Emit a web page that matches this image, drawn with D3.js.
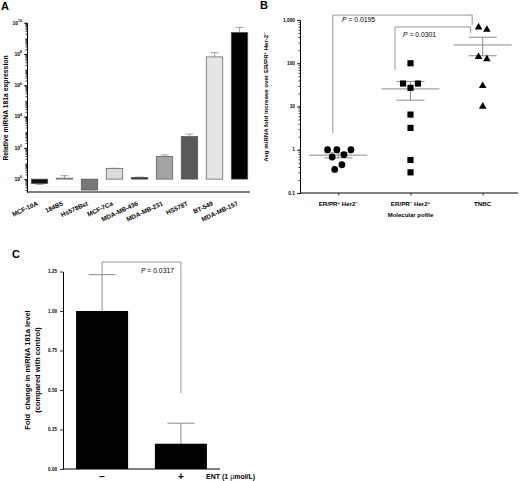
<!DOCTYPE html>
<html>
<head>
<meta charset="utf-8">
<script src="https://cdn.jsdelivr.net/npm/d3@7"></script>
<style>
  body { margin: 0; background: #fff; }
  svg { font-family: "Liberation Sans", Arial, sans-serif; }
</style>
</head>
<body>
<svg id="chart" width="520" height="481"></svg>
<script>
// panel A data
var cellLines = ["MCF-10A", "184B5", "Hs578Bst", "MCF-7Ca", "MDA-MB-436", "MDA-MB-231", "HS578T", "BT-549", "MDA-MB-157"];
var expression = [0.52, 1.15, 0.2, 4.9, 1.3, 28, 535, 6.5e7, 2.4e9];
var expressionErr = [0.46, 1.65, 0.16, 4.9, 1.35, 35, 760, 1.2e8, 5e9];
var barShades = ["#111", "#f2f2f2", "#777", "#dcdcdc", "#333", "#a3a3a3", "#595959", "#e6e6e6", "#000"];

// panel B data
var profiles = ["ER/PR+ Her2-", "ER/PR- Her2+", "TNBC"];
var erprPos = [1.0, 1.0, 1.0, 0.77, 0.68, 0.45, 0.35];
var her2Pos = [100, 34, 34, 27, 6.5, 3.2, 0.58, 0.30];
var tnbc = [680, 600, 140, 125, 30, 10];
var profileMean = [0.75, 25.5, 265];
var profileSemLo = [0.65, 14, 149];
var profileSemHi = [0.85, 38, 400];
var bTicks = [0.1, 1, 10, 100, 1000];
var bTickLabels = ["0.1", "1", "10", "100", "1,000"];

// panel C data
var entGroups = ["\u2212", "+"];
var foldChange = [1.0, 0.16];
var foldErr = [1.23, 0.29];
var cTicks = [0, 0.25, 0.5, 0.75, 1.0, 1.25];

var svg = d3.select("#chart");
var grey = "#8a8a8a";

function logMinor(lo, hi) {
    var out = [];
    for (var k = -2; k <= 10; k++) {
        for (var m = 1; m <= 9; m++) {
            var v = m * Math.pow(10, k);
            if (v >= lo && v <= hi) out.push(v);
        }
    }
    return out;
}

function panelLetter(txt, x, y) {
    svg.append("text").attr("x", x).attr("y", y)
        .attr("font-size", 11).attr("font-weight", "bold").text(txt);
}

// ---------------- A ----------------
panelLetter("A", 1, 10);

var yA = d3.scaleLog().domain([0.15, 1e10]).range([192, 22.7]);
var xA = d3.scaleBand().domain(cellLines).range([27, 252]).paddingInner(0.34).paddingOuter(0.17);

var gA = svg.append("g");

gA.append("g").attr("transform", "translate(27,0)")
    .call(d3.axisLeft(yA).tickValues(logMinor(0.15, 1e10)).tickSize(1.5).tickSizeOuter(0).tickFormat(""));
gA.append("g").attr("transform", "translate(27,0)")
    .call(d3.axisLeft(yA).tickValues([1, 1e2, 1e4, 1e6, 1e8, 1e10]).tickSize(3).tickSizeOuter(0).tickFormat(""));

[0, 2, 4, 6, 8, 10].forEach(function(p) {
    var t = gA.append("text").attr("x", 22).attr("y", yA(Math.pow(10, p)) + 1.8)
        .attr("text-anchor", "end").attr("font-size", 5).attr("font-weight", "bold");
    t.append("tspan").text("10");
    t.append("tspan").attr("dy", -2.5).attr("font-size", 3.5).text(p);
});

gA.append("line").attr("x1", 27).attr("x2", 250).attr("y1", 192).attr("y2", 192)
    .attr("stroke", "#000").attr("stroke-width", 1);

// error bars
gA.selectAll(".errA").data(cellLines).enter().append("path")
    .attr("fill", "none").attr("stroke", grey).attr("stroke-width", 0.8)
    .attr("d", function(d, i) {
        var cx = xA(d) + xA.bandwidth() / 2;
        var y0 = yA(expression[i]), y1 = yA(expressionErr[i]);
        return "M" + cx + "," + y0 + "V" + y1 + "M" + (cx - 4) + "," + y1 + "H" + (cx + 4);
    });

gA.selectAll(".barA").data(cellLines).enter().append("rect")
    .attr("x", function(d) { return xA(d); })
    .attr("width", xA.bandwidth())
    .attr("y", function(d, i) { return Math.min(yA(1), yA(expression[i])); })
    .attr("height", function(d, i) { return Math.abs(yA(1) - yA(expression[i])); })
    .attr("fill", function(d, i) { return barShades[i]; })
    .attr("stroke", "#555").attr("stroke-width", 0.7);

gA.selectAll(".labA").data(cellLines).enter().append("text")
    .attr("transform", function(d) {
        return "translate(" + (xA(d) + xA.bandwidth() / 2 - 1) + ",205) rotate(-25)";
    })
    .attr("text-anchor", "end").attr("font-size", 6.4).attr("font-weight", "bold")
    .text(function(d) { return d; });

gA.append("text").attr("transform", "translate(7.5,108) rotate(-90)")
    .attr("text-anchor", "middle").attr("font-size", 6.8).attr("font-weight", "bold")
    .text("Relative miRNA 181a expression");

// ---------------- B ----------------
panelLetter("B", 260, 9);

var yB = d3.scaleLog().domain([0.1, 1000]).range([193, 20]);
var xB = d3.scalePoint().domain(profiles).range([338.3, 482.7]);
var gB = svg.append("g");

gB.append("g").attr("transform", "translate(300,0)")
    .call(d3.axisLeft(yB).tickValues(logMinor(0.1, 1000)).tickSize(1.5).tickSizeOuter(0).tickFormat(""));
gB.append("g").attr("transform", "translate(300,0)")
    .call(d3.axisLeft(yB).tickValues(bTicks).tickSize(3).tickSizeOuter(0).tickFormat(""));
gB.selectAll(".tlB").data(bTicks).enter().append("text")
    .attr("x", 295).attr("y", function(d) { return yB(d) + 1.7; })
    .attr("text-anchor", "end").attr("font-size", 4.8).attr("font-weight", "bold")
    .text(function(d, i) { return bTickLabels[i]; });

gB.append("g").attr("transform", "translate(0,193)")
    .call(d3.axisBottom(xB).tickSize(2.5).tickSizeOuter(0).tickFormat(""))
    .select(".domain").attr("d", "M300,0H518");

// x labels with superscripts
var supParts = [["ER/PR", "+", " Her2", "\u2212"], ["ER/PR", "\u2212", " Her2", "+"], ["TNBC"]];
profiles.forEach(function(p, i) {
    var t = gB.append("text").attr("x", xB(p)).attr("y", 206)
        .attr("text-anchor", "middle").attr("font-size", 6.2).attr("font-weight", "bold");
    supParts[i].forEach(function(s, j) {
        if (j % 2 === 1) {
            t.append("tspan").attr("dy", -2.2).attr("font-size", 4.2).text(s);
        } else {
            t.append("tspan").attr("dy", j ? 2.2 : 0).text(s);
        }
    });
});
gB.append("text").attr("x", xB(profiles[1])).attr("y", 217)
    .attr("text-anchor", "middle").attr("font-size", 6).attr("font-weight", "bold")
    .text("Molecular pofile");

var yTitleB = gB.append("text").attr("transform", "translate(268,97) rotate(-90)")
    .attr("text-anchor", "middle").attr("font-size", 6.1).attr("font-weight", "bold");
yTitleB.append("tspan").text("Avg miRNA fold increase over ER/PR");
yTitleB.append("tspan").attr("dy", -2.2).attr("font-size", 4.2).text("+");
yTitleB.append("tspan").attr("dy", 2.2).text(" Her-2");
yTitleB.append("tspan").attr("dy", -2.2).attr("font-size", 4.2).text("\u2212");

// brackets
function bracket(g, x1, x2, yTop, yL, yR) {
    g.append("path").attr("fill", "none").attr("stroke", grey).attr("stroke-width", 0.9)
        .attr("d", "M" + x1 + "," + yL + "V" + yTop + "H" + x2 + "V" + yR);
}
function pText(g, x, y, val, anchor) {
    var t = g.append("text").attr("x", x).attr("y", y).attr("font-size", 6.8)
        .attr("text-anchor", anchor || "start");
    t.append("tspan").attr("font-style", "italic").text("P");
    t.append("tspan").text(" = " + val);
}
bracket(gB, xB(profiles[0]) - 5.5, xB(profiles[2]) - 10.5, yB(1300), yB(2.4), yB(770));
pText(gB, 342, 22, "0.0195");
bracket(gB, xB(profiles[1]) - 15.5, xB(profiles[2]) - 12, yB(690), yB(70), yB(500));
pText(gB, 403, 36.5, "0.0301");

// mean / sem
profiles.forEach(function(p, i) {
    var cx = xB(p);
    var path = "M" + (cx - 29) + "," + yB(profileMean[i]) + "H" + (cx + 29) +
        "M" + (cx - 14) + "," + yB(profileSemLo[i]) + "H" + (cx + 14) +
        "M" + (cx - 14) + "," + yB(profileSemHi[i]) + "H" + (cx + 14) +
        "M" + cx + "," + yB(profileSemLo[i]) + "V" + yB(profileSemHi[i]);
    gB.append("path").attr("d", path).attr("fill", "none").attr("stroke", grey).attr("stroke-width", 1);
});

function swarm(vals, cx) {
    var nodes = vals.map(function(v, i) {
        return { x: cx + (i % 2 ? 0.3 : -0.3) * (i + 1), y: yB(v), fy: yB(v) };
    });
    var sim = d3.forceSimulation(nodes)
        .force("x", d3.forceX(cx).strength(0.06))
        .force("c", d3.forceCollide(4.3).iterations(4))
        .stop();
    for (var k = 0; k < 300; k++) sim.tick();
    return nodes;
}

var groupsB = [erprPos, her2Pos, tnbc];
var shapes = [d3.symbolCircle, d3.symbolSquare, d3.symbolTriangle];
var sizes = [36, 38, 25];
groupsB.forEach(function(vals, i) {
    var nodes = swarm(vals, xB(profiles[i]));
    gB.selectAll(".pt" + i).data(nodes).enter().append("path")
        .attr("transform", function(d) { return "translate(" + d.x + "," + d.y + ")"; })
        .attr("d", d3.symbol().type(shapes[i]).size(sizes[i]))
        .attr("fill", "#000");
});

// ---------------- C ----------------
panelLetter("C", 12, 258);

var yC = d3.scaleLinear().domain([0, 1.25]).range([469, 271.5]);
var xC = d3.scaleBand().domain(entGroups).range([63, 220]).paddingInner(0.34).paddingOuter(0.166);
var gC = svg.append("g");

gC.append("g").attr("transform", "translate(63,0)")
    .call(d3.axisLeft(yC).tickValues(cTicks).tickSize(3).tickSizeOuter(0).tickFormat(""));
gC.selectAll(".tlC").data(cTicks).enter().append("text")
    .attr("x", 57).attr("y", function(d) { return yC(d) + 1.6; })
    .attr("text-anchor", "end").attr("font-size", 4.6).attr("font-weight", "bold")
    .text(d3.format(".2f"));
gC.append("line").attr("x1", 63).attr("x2", 220).attr("y1", 469).attr("y2", 469)
    .attr("stroke", "#000").attr("stroke-width", 1);

gC.selectAll(".errC").data(entGroups).enter().append("path")
    .attr("fill", "none").attr("stroke", grey).attr("stroke-width", 1)
    .attr("d", function(d, i) {
        var cx = xC(d) + xC.bandwidth() / 2;
        var y1 = yC(foldErr[i]);
        return "M" + cx + "," + yC(foldChange[i]) + "V" + y1 + "M" + (cx - 13.5) + "," + y1 + "H" + (cx + 13.5);
    });

bracket(gC, xC(entGroups[0]) + xC.bandwidth() / 2, xC(entGroups[1]) + xC.bandwidth() / 2,
    yC(1.31), yC(1.23), yC(0.48));
pText(gC, 174, 273, "0.0317", "end");

gC.selectAll(".barC").data(entGroups).enter().append("rect")
    .attr("x", function(d) { return xC(d); })
    .attr("width", xC.bandwidth())
    .attr("y", function(d, i) { return yC(foldChange[i]); })
    .attr("height", function(d, i) { return yC(0) - yC(foldChange[i]); })
    .attr("fill", "#000");

gC.selectAll(".labC").data(entGroups).enter().append("text")
    .attr("x", function(d) { return xC(d) + xC.bandwidth() / 2; })
    .attr("y", 480).attr("text-anchor", "middle")
    .attr("font-size", 10).attr("font-weight", "bold")
    .text(function(d) { return d; });

var ent = gC.append("text").attr("x", 206).attr("y", 479)
    .attr("font-size", 7).attr("font-weight", "bold");
ent.append("tspan").text("ENT (1 ");
ent.append("tspan").attr("font-weight", "normal").text("\u00b5");
ent.append("tspan").text("mol/L)");

gC.append("text").attr("transform", "translate(30,370) rotate(-90)")
    .attr("text-anchor", "middle").attr("font-size", 7.5).attr("font-weight", "bold")
    .attr("xml:space", "preserve")
    .text("Fold  change in miRNA 181a level");
gC.append("text").attr("transform", "translate(39.5,370) rotate(-90)")
    .attr("text-anchor", "middle").attr("font-size", 7.5).attr("font-weight", "bold")
    .text("(compared with control)");

svg.selectAll(".domain").attr("stroke-width", 1);
svg.selectAll(".tick line").attr("stroke-width", 0.8);
</script>
</body>
</html>
